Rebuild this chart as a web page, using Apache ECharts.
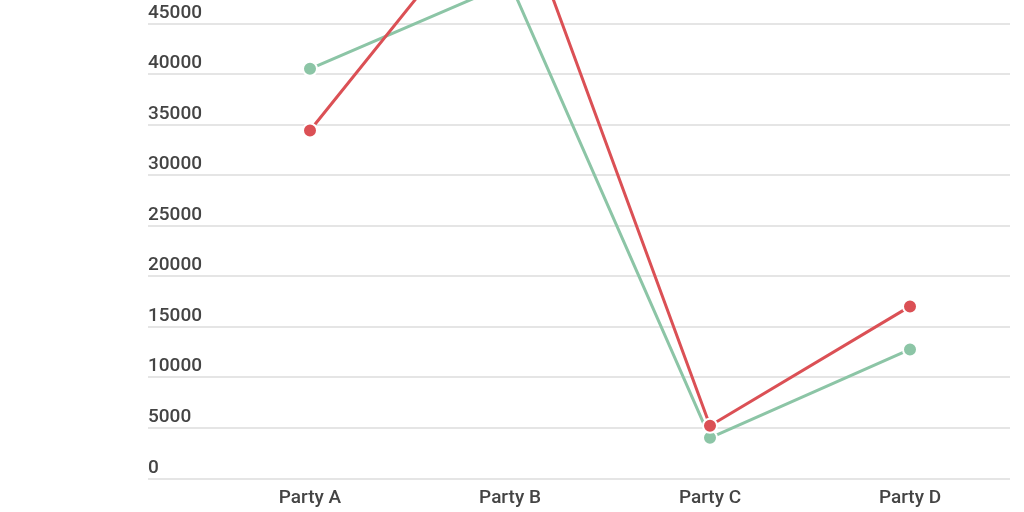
<!DOCTYPE html>
<html>
<head>
<meta charset="utf-8">
<script src="https://cdn.jsdelivr.net/npm/echarts@6/dist/echarts.min.js"></script>
<style>html,body{margin:0;padding:0;background:#fff}#c{width:1024px;height:512px}</style>
</head>
<body>
<div id="c"></div>
<script>
const categories = ['Party A', 'Party B', 'Party C', 'Party D'];
const greenSeries = [40500, 49000, 4000, 12750];
const redSeries = [34400, 59000, 5200, 17000];
const yMin = 0, yMax = 45000, yStep = 5000;

const chart = echarts.init(document.getElementById('c'), null, {renderer: 'canvas'});
const gTop = 23.3, gBottom = 33.7;
const font = 'Roboto, "Noto Sans", sans-serif';
chart.setOption({
  animation: false,
  backgroundColor: '#ffffff',
  grid: [
    {left: 148, right: 14, top: gTop, bottom: gBottom},
    {left: 210, right: 14, top: gTop, bottom: gBottom}
  ],
  xAxis: [
    {gridIndex: 0, type: 'category', data: categories, show: false},
    {gridIndex: 1, type: 'category', data: categories, boundaryGap: true,
     axisLine: {show: false}, axisTick: {show: false},
     axisLabel: {color: '#444', fontSize: 19, fontWeight: 500, fontFamily: font, margin: 10}}
  ],
  yAxis: [
    {gridIndex: 0, type: 'value', min: yMin, max: yMax, interval: yStep,
     axisLine: {show: false}, axisTick: {show: false},
     splitLine: {lineStyle: {color: '#dcdcdc', width: 1.5}},
     axisLabel: {inside: true, margin: 0, color: '#444', fontSize: 19, fontWeight: 500, fontFamily: font,
                 verticalAlign: 'bottom', padding: [0, 0, 1, 0],
                 formatter: function (v) { return String(v); }}},
    {gridIndex: 1, type: 'value', min: yMin, max: yMax, interval: yStep, show: false,
     splitLine: {show: false}}
  ],
  series: [
    {type: 'line', xAxisIndex: 1, yAxisIndex: 1, data: greenSeries,
     symbol: 'circle', symbolSize: 14, clip: false,
     lineStyle: {color: '#8cc5a6', width: 3},
     itemStyle: {color: '#8cc5a6', borderColor: '#fff', borderWidth: 2}},
    {type: 'line', xAxisIndex: 1, yAxisIndex: 1, data: redSeries,
     symbol: 'circle', symbolSize: 14, clip: false,
     lineStyle: {color: '#db5055', width: 3},
     itemStyle: {color: '#db5055', borderColor: '#fff', borderWidth: 2}}
  ]
});
</script>
</body>
</html>
